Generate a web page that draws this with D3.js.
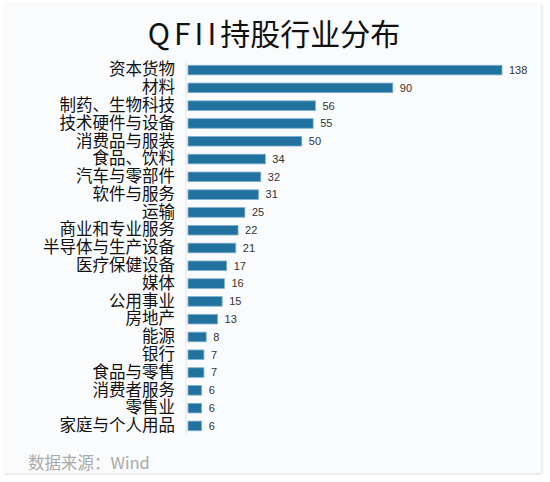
<!DOCTYPE html>
<html>
<head>
<meta charset="utf-8">
<script src="https://cdn.jsdelivr.net/npm/d3@7"></script>
<style>
  html, body { margin: 0; padding: 0; background: #ffffff; }
  svg { display: block; }
</style>
</head>
<body>
<div id="chart"></div>
<script>
// QFII holdings by industry (number of holdings)
const industries = [
  "资本货物", "材料", "制药、生物科技", "技术硬件与设备", "消费品与服装",
  "食品、饮料", "汽车与零部件", "软件与服务", "运输", "商业和专业服务",
  "半导体与生产设备", "医疗保健设备", "媒体", "公用事业", "房地产",
  "能源", "银行", "食品与零售", "消费者服务", "零售业", "家庭与个人用品"
];
const holdings = [138, 90, 56, 55, 50, 34, 32, 31, 25, 22, 21, 17, 16, 15, 13, 8, 7, 7, 6, 6, 6];
const titleText = "持股行业分布";
const sourceText = "数据来源：Wind";

const width = 550, height = 482;
const cjk = "'Noto Sans CJK SC', 'Noto Sans', sans-serif";

const svg = d3.select("#chart")
    .append("svg")
    .attr("width", width)
    .attr("height", height);

// card with soft shadow
const defs = svg.append("defs");
const shadow = defs.append("filter").attr("id", "shadow")
    .attr("x", "-5%").attr("y", "-5%").attr("width", "110%").attr("height", "110%");
shadow.append("feDropShadow")
    .attr("dx", 1).attr("dy", 1).attr("stdDeviation", 1.6)
    .attr("flood-color", "#000").attr("flood-opacity", 0.13);

svg.append("rect")
    .attr("x", 3).attr("y", 4)
    .attr("width", 538).attr("height", 469)
    .attr("fill", "#f9fbfd")
    .attr("filter", "url(#shadow)");

// title
const title = svg.append("text")
    .attr("x", 274).attr("y", 45)
    .attr("text-anchor", "middle")
    .attr("font-family", cjk)
    .attr("font-size", 30)
    .attr("fill", "#111");
title.append("tspan").attr("letter-spacing", 4).text("QFII");
title.append("tspan").text(titleText);

// scales
const y = d3.scaleBand()
    .domain(industries)
    .range([61, 435])
    .paddingInner(0.46)
    .paddingOuter(0.24);

const x = d3.scaleLinear()
    .domain([0, d3.max(holdings)])
    .range([188, 502]);

const rows = industries.map((name, i) => ({ name, value: holdings[i] }));

// axis (category labels, no ticks)
const yAxis = svg.append("g")
    .attr("transform", `translate(${x(0) - 2},0)`)
    .call(d3.axisLeft(y).tickSize(0).tickPadding(11));
yAxis.select(".domain")
    .attr("stroke", "#e2e4e8")
    .attr("d", `M0,61V435`);
yAxis.selectAll("text")
    .attr("font-family", cjk)
    .attr("font-size", 16.5)
    .attr("fill", "#111");

// bars
svg.append("g").selectAll("rect")
    .data(rows)
    .join("rect")
    .attr("x", x(0))
    .attr("y", d => y(d.name))
    .attr("width", d => x(d.value) - x(0))
    .attr("height", y.bandwidth())
    .attr("fill", "#22729f")
    .attr("stroke", "#7fb1d0")
    .attr("stroke-width", 0.8);

// value labels
svg.append("g").selectAll("text")
    .data(rows)
    .join("text")
    .attr("x", d => x(d.value) + 7)
    .attr("y", d => y(d.name) + y.bandwidth() / 2)
    .attr("dy", "0.35em")
    .attr("font-family", "'Liberation Sans', Arial, sans-serif")
    .attr("font-size", 11)
    .attr("fill", "#333")
    .text(d => d.value);

// source
svg.append("text")
    .attr("x", 28).attr("y", 469)
    .attr("font-family", cjk)
    .attr("font-size", 16.5)
    .attr("fill", "#aaaaaa")
    .text(sourceText);
</script>
</body>
</html>
